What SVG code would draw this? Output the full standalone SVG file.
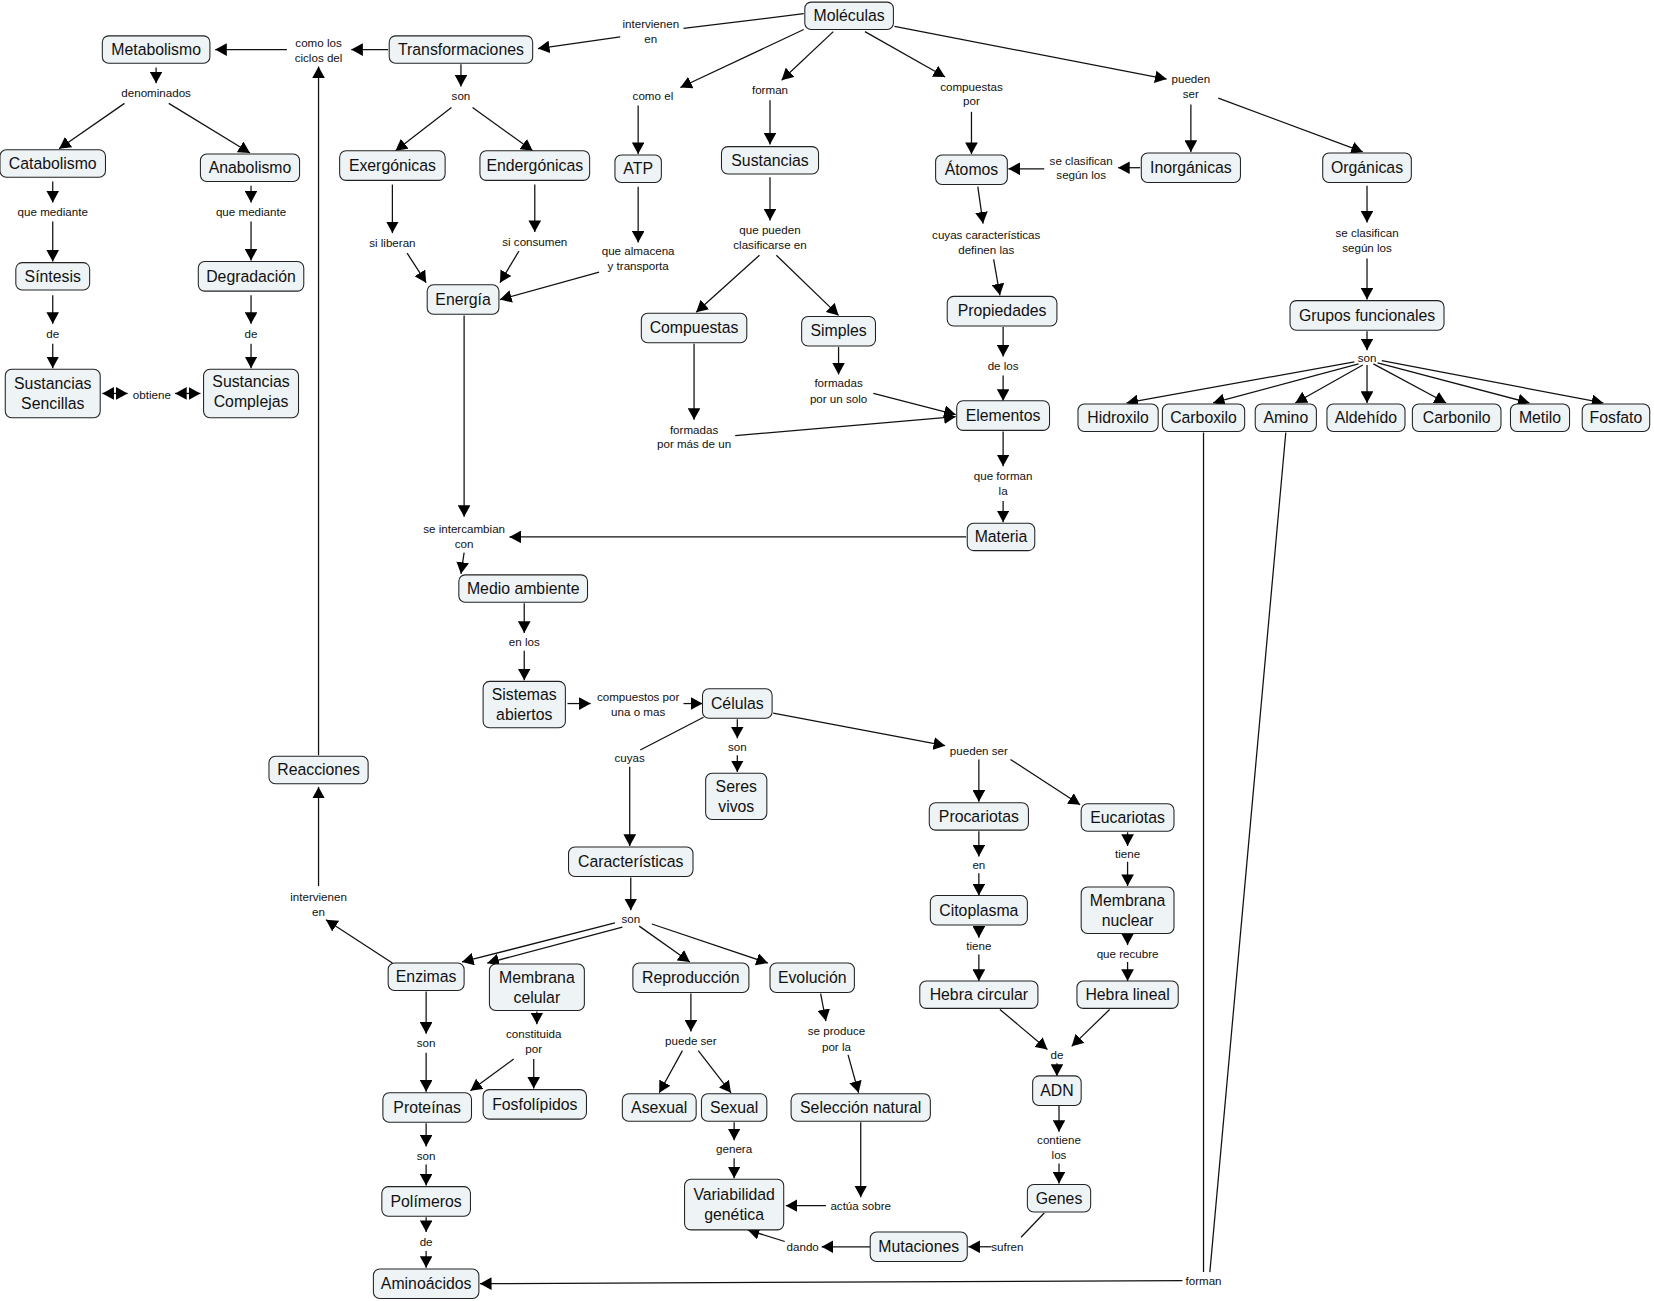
<svg xmlns="http://www.w3.org/2000/svg" width="1654" height="1301" viewBox="0 0 1654 1301">
<style>
.n rect{fill:#eef3f6;stroke:#222;stroke-width:1}
.n text{font-family:"Liberation Sans",Arial,sans-serif;font-size:15px;fill:#111;text-anchor:middle}
.l{font-family:"Liberation Sans",Arial,sans-serif;font-size:11px;fill:#111;text-anchor:middle}
#c line{stroke:#111;stroke-width:1.2}
#c line.a{marker-end:url(#ah)}
#c line.d{marker-end:url(#ah);marker-start:url(#as)}
</style>
<defs>
<marker id="ah" markerUnits="userSpaceOnUse" markerWidth="12" markerHeight="12" refX="11" refY="6" orient="auto"><path d="M0,0 L11,6 L0,12 z" fill="#000"/></marker>
<marker id="as" markerUnits="userSpaceOnUse" markerWidth="12" markerHeight="12" refX="1" refY="6" orient="auto"><path d="M12,0 L1,6 L12,12 z" fill="#000"/></marker>
</defs>
<rect width="1654" height="1301" fill="#fff"/>
<g transform="scale(1.0548)">
<g id="c">
<line x1="762" y1="13" x2="648" y2="27"/><line class="a" x1="588" y1="35" x2="510" y2="46"/>
<line class="a" x1="368" y1="47" x2="333" y2="47"/><line class="a" x1="272" y1="47" x2="204" y2="47"/>
<line class="a" x1="148" y1="64" x2="148" y2="79"/>
<line class="a" x1="118" y1="98" x2="56" y2="141"/><line class="a" x1="160" y1="98" x2="237" y2="145"/>
<line class="a" x1="50" y1="172" x2="50" y2="192"/><line class="a" x1="50" y1="210" x2="50" y2="248"/>
<line class="a" x1="238" y1="176" x2="238" y2="192"/><line class="a" x1="238" y1="210" x2="238" y2="247"/>
<line class="a" x1="50" y1="280" x2="50" y2="307"/><line class="a" x1="50" y1="326" x2="50" y2="349"/>
<line class="a" x1="238" y1="280" x2="238" y2="307"/><line class="a" x1="238" y1="326" x2="238" y2="349"/>
<line class="d" x1="97" y1="373" x2="121" y2="373"/><line class="d" x1="166" y1="373" x2="190" y2="373"/>
<line class="a" x1="437" y1="61" x2="437" y2="82"/>
<line class="a" x1="428" y1="102" x2="375" y2="143"/><line class="a" x1="448" y1="102" x2="505" y2="143"/>
<line class="a" x1="372" y1="175" x2="372" y2="221"/><line class="a" x1="386" y1="240" x2="404" y2="268"/>
<line class="a" x1="507" y1="175" x2="507" y2="220"/><line class="a" x1="492" y1="238" x2="474" y2="268"/>
<line class="a" x1="762" y1="28" x2="645" y2="83"/><line class="a" x1="605" y1="100" x2="605" y2="146"/>
<line class="a" x1="605" y1="177" x2="605" y2="230"/><line class="a" x1="568" y1="258" x2="474" y2="284"/>
<line class="a" x1="790" y1="30" x2="741" y2="76"/><line class="a" x1="730" y1="95" x2="730" y2="137"/>
<line class="a" x1="730" y1="168" x2="730" y2="209"/>
<line class="a" x1="720" y1="242" x2="660" y2="296"/><line class="a" x1="736" y1="242" x2="795" y2="299"/>
<line class="a" x1="820" y1="30" x2="896" y2="73"/><line class="a" x1="921" y1="106" x2="921" y2="146"/>
<line class="a" x1="848" y1="25" x2="1106" y2="75"/>
<line class="a" x1="1129" y1="99" x2="1129" y2="144"/><line class="a" x1="1155" y1="93" x2="1292" y2="144"/>
<line class="a" x1="1081" y1="159" x2="1060" y2="159"/><line class="a" x1="990" y1="160" x2="956" y2="160"/>
<line class="a" x1="927" y1="177" x2="932" y2="212"/><line class="a" x1="942" y1="246" x2="948" y2="280"/>
<line class="a" x1="1296" y1="176" x2="1296" y2="211"/><line class="a" x1="1296" y1="245" x2="1296" y2="284"/>
<line class="a" x1="951" y1="310" x2="951" y2="338"/><line class="a" x1="951" y1="356" x2="951" y2="380"/>
<line class="a" x1="1296" y1="314" x2="1296" y2="332"/>
<line class="a" x1="1284" y1="343" x2="1068" y2="382"/><line class="a" x1="1288" y1="345" x2="1150" y2="382"/>
<line class="a" x1="1292" y1="346" x2="1228" y2="382"/><line class="a" x1="1296" y1="346" x2="1296" y2="382"/>
<line class="a" x1="1302" y1="345" x2="1371" y2="382"/><line class="a" x1="1306" y1="344" x2="1450" y2="382"/>
<line class="a" x1="1310" y1="342" x2="1520" y2="382"/>
<line class="a" x1="795" y1="329" x2="795" y2="355"/><line class="a" x1="828" y1="373" x2="906" y2="393"/>
<line class="a" x1="658" y1="326" x2="658" y2="398"/><line class="a" x1="697" y1="413" x2="906" y2="395"/>
<line class="a" x1="951" y1="409" x2="951" y2="442"/><line class="a" x1="951" y1="475" x2="951" y2="495"/>
<line class="a" x1="916" y1="509" x2="483" y2="509"/>
<line class="a" x1="440" y1="299" x2="440" y2="490"/>
<line class="a" x1="440" y1="524" x2="437" y2="544"/>
<line class="a" x1="497" y1="572" x2="497" y2="600"/><line class="a" x1="497" y1="617" x2="497" y2="645"/>
<line class="a" x1="538" y1="667" x2="560" y2="667"/><line class="a" x1="648" y1="667" x2="666" y2="667"/>
<line x1="667" y1="680" x2="607" y2="711"/><line class="a" x1="597" y1="727" x2="597" y2="802"/>
<line class="a" x1="699" y1="682" x2="699" y2="700"/><line class="a" x1="699" y1="716" x2="699" y2="732"/>
<line class="a" x1="733" y1="676" x2="896" y2="707"/>
<line class="a" x1="928" y1="720" x2="928" y2="760"/><line class="a" x1="958" y1="720" x2="1024" y2="763"/>
<line class="a" x1="928" y1="788" x2="928" y2="812"/><line class="a" x1="928" y1="828" x2="928" y2="849"/>
<line class="a" x1="1069" y1="789" x2="1069" y2="802"/><line class="a" x1="1069" y1="817" x2="1069" y2="840"/>
<line class="a" x1="928" y1="878" x2="928" y2="889"/><line class="a" x1="928" y1="905" x2="928" y2="930"/>
<line class="a" x1="1069" y1="886" x2="1069" y2="896"/><line class="a" x1="1069" y1="912" x2="1069" y2="930"/>
<line class="a" x1="948" y1="957" x2="993" y2="995"/><line class="a" x1="1052" y1="957" x2="1016" y2="992"/>
<line class="a" x1="1002" y1="1008" x2="1002" y2="1020"/>
<line class="a" x1="1004" y1="1048" x2="1004" y2="1073"/><line class="a" x1="1004" y1="1103" x2="1004" y2="1122"/>
<line x1="990" y1="1150" x2="968" y2="1173"/><line class="a" x1="940" y1="1182" x2="918" y2="1182"/>
<line class="a" x1="825" y1="1182" x2="779" y2="1182"/><line class="a" x1="744" y1="1177" x2="709" y2="1166"/>
<line class="a" x1="816" y1="1064" x2="816" y2="1135"/><line class="a" x1="783" y1="1143" x2="745" y2="1143"/>
<line class="a" x1="598" y1="832" x2="598" y2="863"/>
<line class="a" x1="583" y1="875" x2="438" y2="912"/><line class="a" x1="590" y1="879" x2="462" y2="913"/>
<line class="a" x1="606" y1="878" x2="654" y2="912"/><line class="a" x1="618" y1="876" x2="728" y2="913"/>
<line class="a" x1="372" y1="913" x2="309" y2="872"/><line class="a" x1="302" y1="840" x2="302" y2="746"/>
<line class="a" x1="302" y1="716" x2="302" y2="63"/>
<line class="a" x1="404" y1="940" x2="404" y2="980"/><line class="a" x1="404" y1="998" x2="404" y2="1035"/>
<line class="a" x1="509" y1="959" x2="509" y2="971"/>
<line class="a" x1="487" y1="1004" x2="446" y2="1034"/><line class="a" x1="506" y1="1004" x2="506" y2="1032"/>
<line class="a" x1="655" y1="942" x2="655" y2="978"/>
<line class="a" x1="647" y1="996" x2="625" y2="1036"/><line class="a" x1="662" y1="996" x2="693" y2="1036"/>
<line class="a" x1="778" y1="942" x2="783" y2="968"/><line class="a" x1="804" y1="1000" x2="814" y2="1036"/>
<line class="a" x1="696" y1="1064" x2="696" y2="1081"/><line class="a" x1="696" y1="1098" x2="696" y2="1117"/>
<line class="a" x1="404" y1="1065" x2="404" y2="1087"/><line class="a" x1="404" y1="1104" x2="404" y2="1124"/>
<line class="a" x1="404" y1="1154" x2="404" y2="1168"/><line class="a" x1="404" y1="1186" x2="404" y2="1202"/>
<line x1="1141" y1="410" x2="1141" y2="1206"/><line x1="1219" y1="410" x2="1147" y2="1206"/>
<line class="a" x1="1121" y1="1214" x2="455" y2="1217"/>
</g>
<g id="labels">
<text class="l" x="617" y="27">intervienen</text><text class="l" x="617" y="41">en</text>
<text class="l" x="302" y="45">como los</text><text class="l" x="302" y="59">ciclos del</text>
<text class="l" x="148" y="92">denominados</text>
<text class="l" x="619" y="95">como el</text>
<text class="l" x="730" y="89">forman</text>
<text class="l" x="921" y="86">compuestas</text><text class="l" x="921" y="100">por</text>
<text class="l" x="1129" y="79">pueden</text><text class="l" x="1129" y="93">ser</text>
<text class="l" x="437" y="95">son</text>
<text class="l" x="1025" y="156">se clasifican</text><text class="l" x="1025" y="170">según los</text>
<text class="l" x="50" y="205">que mediante</text><text class="l" x="238" y="205">que mediante</text>
<text class="l" x="372" y="234">si liberan</text><text class="l" x="507" y="233">si consumen</text>
<text class="l" x="605" y="242">que almacena</text><text class="l" x="605" y="256">y transporta</text>
<text class="l" x="730" y="222">que pueden</text><text class="l" x="730" y="236">clasificarse en</text>
<text class="l" x="935" y="227">cuyas características</text><text class="l" x="935" y="241">definen las</text>
<text class="l" x="1296" y="225">se clasifican</text><text class="l" x="1296" y="239">según los</text>
<text class="l" x="50" y="320">de</text><text class="l" x="238" y="320">de</text>
<text class="l" x="144" y="378">obtiene</text>
<text class="l" x="951" y="351">de los</text>
<text class="l" x="1296" y="343">son</text>
<text class="l" x="795" y="367">formadas</text><text class="l" x="795" y="382">por un solo</text>
<text class="l" x="658" y="411">formadas</text><text class="l" x="658" y="425">por más de un</text>
<text class="l" x="951" y="455">que forman</text><text class="l" x="951" y="469">la</text>
<text class="l" x="440" y="505">se intercambian</text><text class="l" x="440" y="520">con</text>
<text class="l" x="497" y="612">en los</text>
<text class="l" x="605" y="665">compuestos por</text><text class="l" x="605" y="679">una o mas</text>
<text class="l" x="597" y="722">cuyas</text>
<text class="l" x="699" y="712">son</text>
<text class="l" x="928" y="716">pueden ser</text>
<text class="l" x="928" y="824">en</text>
<text class="l" x="1069" y="813">tiene</text>
<text class="l" x="928" y="901">tiene</text>
<text class="l" x="1069" y="908">que recubre</text>
<text class="l" x="302" y="854">intervienen</text><text class="l" x="302" y="868">en</text>
<text class="l" x="598" y="875">son</text>
<text class="l" x="404" y="993">son</text>
<text class="l" x="506" y="984">constituida</text><text class="l" x="506" y="998">por</text>
<text class="l" x="655" y="991">puede ser</text>
<text class="l" x="793" y="981">se produce</text><text class="l" x="793" y="996">por la</text>
<text class="l" x="1002" y="1004">de</text>
<text class="l" x="404" y="1100">son</text>
<text class="l" x="696" y="1093">genera</text>
<text class="l" x="1004" y="1085">contiene</text><text class="l" x="1004" y="1099">los</text>
<text class="l" x="404" y="1181">de</text>
<text class="l" x="816" y="1147">actúa sobre</text>
<text class="l" x="761" y="1186">dando</text>
<text class="l" x="955" y="1186">sufren</text>
<text class="l" x="1141" y="1218">forman</text>
</g>
<g id="n-moleculas" class="n"><rect x="763" y="2" width="84" height="26" rx="6"/><text x="805" y="20">Moléculas</text></g>
<g id="n-transformaciones" class="n"><rect x="369" y="34" width="136" height="26" rx="6"/><text x="437" y="52">Transformaciones</text></g>
<g id="n-metabolismo" class="n"><rect x="97" y="34" width="102" height="26" rx="6"/><text x="148" y="52">Metabolismo</text></g>
<g id="n-catabolismo" class="n"><rect x="0" y="142" width="100" height="26" rx="6"/><text x="50" y="160">Catabolismo</text></g>
<g id="n-anabolismo" class="n"><rect x="190" y="146" width="94" height="26" rx="6"/><text x="237" y="164">Anabolismo</text></g>
<g id="n-sintesis" class="n"><rect x="15" y="249" width="70" height="26" rx="6"/><text x="50" y="267">Síntesis</text></g>
<g id="n-degradacion" class="n"><rect x="188" y="248" width="100" height="28" rx="6"/><text x="238" y="267">Degradación</text></g>
<g id="n-sencillas" class="n"><rect x="5" y="350" width="90" height="46" rx="6"/><text x="50" y="369">Sustancias</text><text x="50" y="388">Sencillas</text></g>
<g id="n-complejas" class="n"><rect x="193" y="350" width="90" height="46" rx="6"/><text x="238" y="367">Sustancias</text><text x="238" y="386">Complejas</text></g>
<g id="n-exergonicas" class="n"><rect x="322" y="143" width="100" height="28" rx="6"/><text x="372" y="162">Exergónicas</text></g>
<g id="n-endergonicas" class="n"><rect x="455" y="143" width="104" height="28" rx="6"/><text x="507" y="162">Endergónicas</text></g>
<g id="n-atp" class="n"><rect x="583" y="147" width="44" height="26" rx="6"/><text x="605" y="165">ATP</text></g>
<g id="n-sustancias" class="n"><rect x="684" y="139" width="92" height="26" rx="6"/><text x="730" y="157">Sustancias</text></g>
<g id="n-atomos" class="n"><rect x="887" y="147" width="68" height="28" rx="6"/><text x="921" y="166">Átomos</text></g>
<g id="n-inorganicas" class="n"><rect x="1082" y="145" width="94" height="28" rx="6"/><text x="1129" y="164">Inorgánicas</text></g>
<g id="n-organicas" class="n"><rect x="1254" y="145" width="84" height="28" rx="6"/><text x="1296" y="164">Orgánicas</text></g>
<g id="n-energia" class="n"><rect x="405" y="270" width="68" height="28" rx="6"/><text x="439" y="289">Energía</text></g>
<g id="n-compuestas" class="n"><rect x="608" y="297" width="100" height="28" rx="6"/><text x="658" y="316">Compuestas</text></g>
<g id="n-simples" class="n"><rect x="760" y="300" width="70" height="28" rx="6"/><text x="795" y="319">Simples</text></g>
<g id="n-propiedades" class="n"><rect x="898" y="281" width="104" height="28" rx="6"/><text x="950" y="300">Propiedades</text></g>
<g id="n-grupos" class="n"><rect x="1223" y="285" width="146" height="28" rx="6"/><text x="1296" y="304">Grupos funcionales</text></g>
<g id="n-elementos" class="n"><rect x="907" y="380" width="88" height="28" rx="6"/><text x="951" y="399">Elementos</text></g>
<g id="n-hidroxilo" class="n"><rect x="1022" y="383" width="76" height="26" rx="6"/><text x="1060" y="401">Hidroxilo</text></g>
<g id="n-carboxilo" class="n"><rect x="1102" y="383" width="78" height="26" rx="6"/><text x="1141" y="401">Carboxilo</text></g>
<g id="n-amino" class="n"><rect x="1190" y="383" width="58" height="26" rx="6"/><text x="1219" y="401">Amino</text></g>
<g id="n-aldehido" class="n"><rect x="1258" y="383" width="74" height="26" rx="6"/><text x="1295" y="401">Aldehído</text></g>
<g id="n-carbonilo" class="n"><rect x="1339" y="383" width="84" height="26" rx="6"/><text x="1381" y="401">Carbonilo</text></g>
<g id="n-metilo" class="n"><rect x="1432" y="383" width="56" height="26" rx="6"/><text x="1460" y="401">Metilo</text></g>
<g id="n-fosfato" class="n"><rect x="1500" y="383" width="64" height="26" rx="6"/><text x="1532" y="401">Fosfato</text></g>
<g id="n-materia" class="n"><rect x="917" y="496" width="64" height="26" rx="6"/><text x="949" y="514">Materia</text></g>
<g id="n-medio" class="n"><rect x="435" y="545" width="122" height="26" rx="6"/><text x="496" y="563">Medio ambiente</text></g>
<g id="n-sistemas" class="n"><rect x="458" y="646" width="78" height="44" rx="6"/><text x="497" y="664">Sistemas</text><text x="497" y="683">abiertos</text></g>
<g id="n-celulas" class="n"><rect x="666" y="653" width="66" height="28" rx="6"/><text x="699" y="672">Células</text></g>
<g id="n-reacciones" class="n"><rect x="255" y="717" width="94" height="26" rx="6"/><text x="302" y="735">Reacciones</text></g>
<g id="n-seres" class="n"><rect x="669" y="733" width="58" height="44" rx="6"/><text x="698" y="751">Seres</text><text x="698" y="770">vivos</text></g>
<g id="n-procariotas" class="n"><rect x="881" y="761" width="94" height="26" rx="6"/><text x="928" y="779">Procariotas</text></g>
<g id="n-eucariotas" class="n"><rect x="1025" y="762" width="88" height="26" rx="6"/><text x="1069" y="780">Eucariotas</text></g>
<g id="n-caracteristicas" class="n"><rect x="539" y="803" width="118" height="28" rx="6"/><text x="598" y="822">Características</text></g>
<g id="n-citoplasma" class="n"><rect x="882" y="849" width="92" height="28" rx="6"/><text x="928" y="868">Citoplasma</text></g>
<g id="n-nuclear" class="n"><rect x="1025" y="841" width="88" height="44" rx="6"/><text x="1069" y="859">Membrana</text><text x="1069" y="878">nuclear</text></g>
<g id="n-enzimas" class="n"><rect x="368" y="913" width="72" height="26" rx="6"/><text x="404" y="931">Enzimas</text></g>
<g id="n-celular" class="n"><rect x="464" y="914" width="90" height="44" rx="6"/><text x="509" y="932">Membrana</text><text x="509" y="951">celular</text></g>
<g id="n-reproduccion" class="n"><rect x="600" y="913" width="110" height="28" rx="6"/><text x="655" y="932">Reproducción</text></g>
<g id="n-evolucion" class="n"><rect x="730" y="913" width="80" height="28" rx="6"/><text x="770" y="932">Evolución</text></g>
<g id="n-circular" class="n"><rect x="872" y="930" width="112" height="26" rx="6"/><text x="928" y="948">Hebra circular</text></g>
<g id="n-lineal" class="n"><rect x="1021" y="930" width="96" height="26" rx="6"/><text x="1069" y="948">Hebra lineal</text></g>
<g id="n-adn" class="n"><rect x="979" y="1020" width="46" height="28" rx="6"/><text x="1002" y="1039">ADN</text></g>
<g id="n-proteinas" class="n"><rect x="363" y="1036" width="84" height="28" rx="6"/><text x="405" y="1055">Proteínas</text></g>
<g id="n-fosfolipidos" class="n"><rect x="458" y="1033" width="98" height="28" rx="6"/><text x="507" y="1052">Fosfolípidos</text></g>
<g id="n-asexual" class="n"><rect x="590" y="1037" width="70" height="26" rx="6"/><text x="625" y="1055">Asexual</text></g>
<g id="n-sexual" class="n"><rect x="665" y="1037" width="62" height="26" rx="6"/><text x="696" y="1055">Sexual</text></g>
<g id="n-seleccion" class="n"><rect x="750" y="1037" width="132" height="26" rx="6"/><text x="816" y="1055">Selección natural</text></g>
<g id="n-genes" class="n"><rect x="974" y="1123" width="60" height="26" rx="6"/><text x="1004" y="1141">Genes</text></g>
<g id="n-polimeros" class="n"><rect x="362" y="1125" width="84" height="28" rx="6"/><text x="404" y="1144">Polímeros</text></g>
<g id="n-variabilidad" class="n"><rect x="649" y="1118" width="94" height="48" rx="6"/><text x="696" y="1138">Variabilidad</text><text x="696" y="1157">genética</text></g>
<g id="n-mutaciones" class="n"><rect x="825" y="1168" width="92" height="28" rx="6"/><text x="871" y="1187">Mutaciones</text></g>
<g id="n-aminoacidos" class="n"><rect x="354" y="1203" width="100" height="28" rx="6"/><text x="404" y="1222">Aminoácidos</text></g>
</g>
</svg>
